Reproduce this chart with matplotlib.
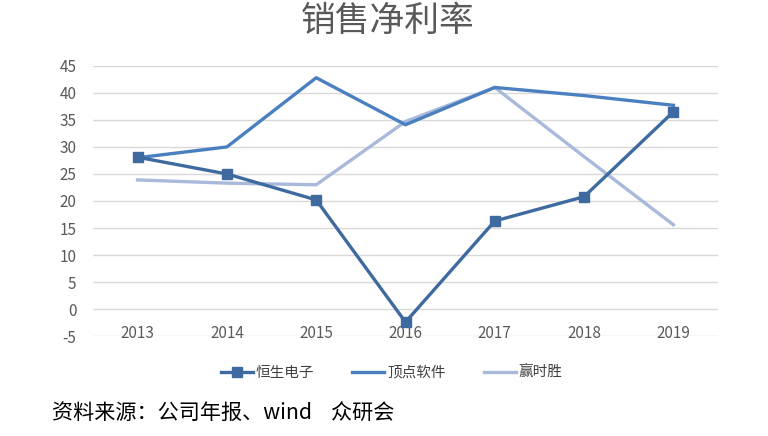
import matplotlib.pyplot as plt

plt.rcParams['font.family'] = ['Noto Sans CJK SC', 'DejaVu Sans']
plt.rcParams['axes.unicode_minus'] = False

years = ['2013', '2014', '2015', '2016', '2017', '2018', '2019']
hengsheng = [28.1, 25.0, 20.2, -2.4, 16.3, 20.8, 36.5]
dingdian = [28.0, 30.0, 42.8, 34.1, 41.0, 39.5, 37.7]
yingshisheng = [23.9, 23.3, 23.0, 34.7, 41.0, 28.2, 15.6]
yticks = [-5, 0, 5, 10, 15, 20, 25, 30, 35, 40, 45]

fig = plt.figure(figsize=(7.68, 4.36), dpi=100)
ax = fig.add_axes([0.121, 0.229, 0.814, 0.62])

x = list(range(len(years)))
ax.plot(x, hengsheng, color='#3f6a9f', lw=2.4, marker='s', ms=7, label='恒生电子', zorder=4)
ax.plot(x, dingdian, color='#4a7fc0', lw=2.4, label='顶点软件', zorder=3)
ax.plot(x, yingshisheng, color='#a8b9d9', lw=2.4, label='赢时胜', zorder=2)

ax.set_xlim(-0.5, 6.5)
ax.set_ylim(-5, 45)
ax.set_yticks(yticks)
ax.set_xticks(x)
ax.set_xticklabels(years)
ax.grid(axis='y', color='#d9d9d9', lw=1)
ax.set_axisbelow(True)
for s in ax.spines.values():
    s.set_visible(False)
ax.tick_params(axis='both', length=0, labelsize=11, labelcolor='#595959')
ax.tick_params(axis='x', pad=-8)
ax.tick_params(axis='y', pad=12)

fig.text(0.505, 0.95, '销售净利率', ha='center', va='center', fontsize=25, color='#595959')
fig.legend(loc='center', bbox_to_anchor=(0.51, 0.145), ncol=3, frameon=False,
           fontsize=10.5, handlelength=2.2, columnspacing=2.6, handletextpad=0.2,
           labelcolor='#404040')
fig.text(0.068, 0.052, '资料来源：公司年报、wind    众研会', ha='left', va='center',
         fontsize=15.2, color='#000000')

fig.savefig('out.png', dpi=100)
